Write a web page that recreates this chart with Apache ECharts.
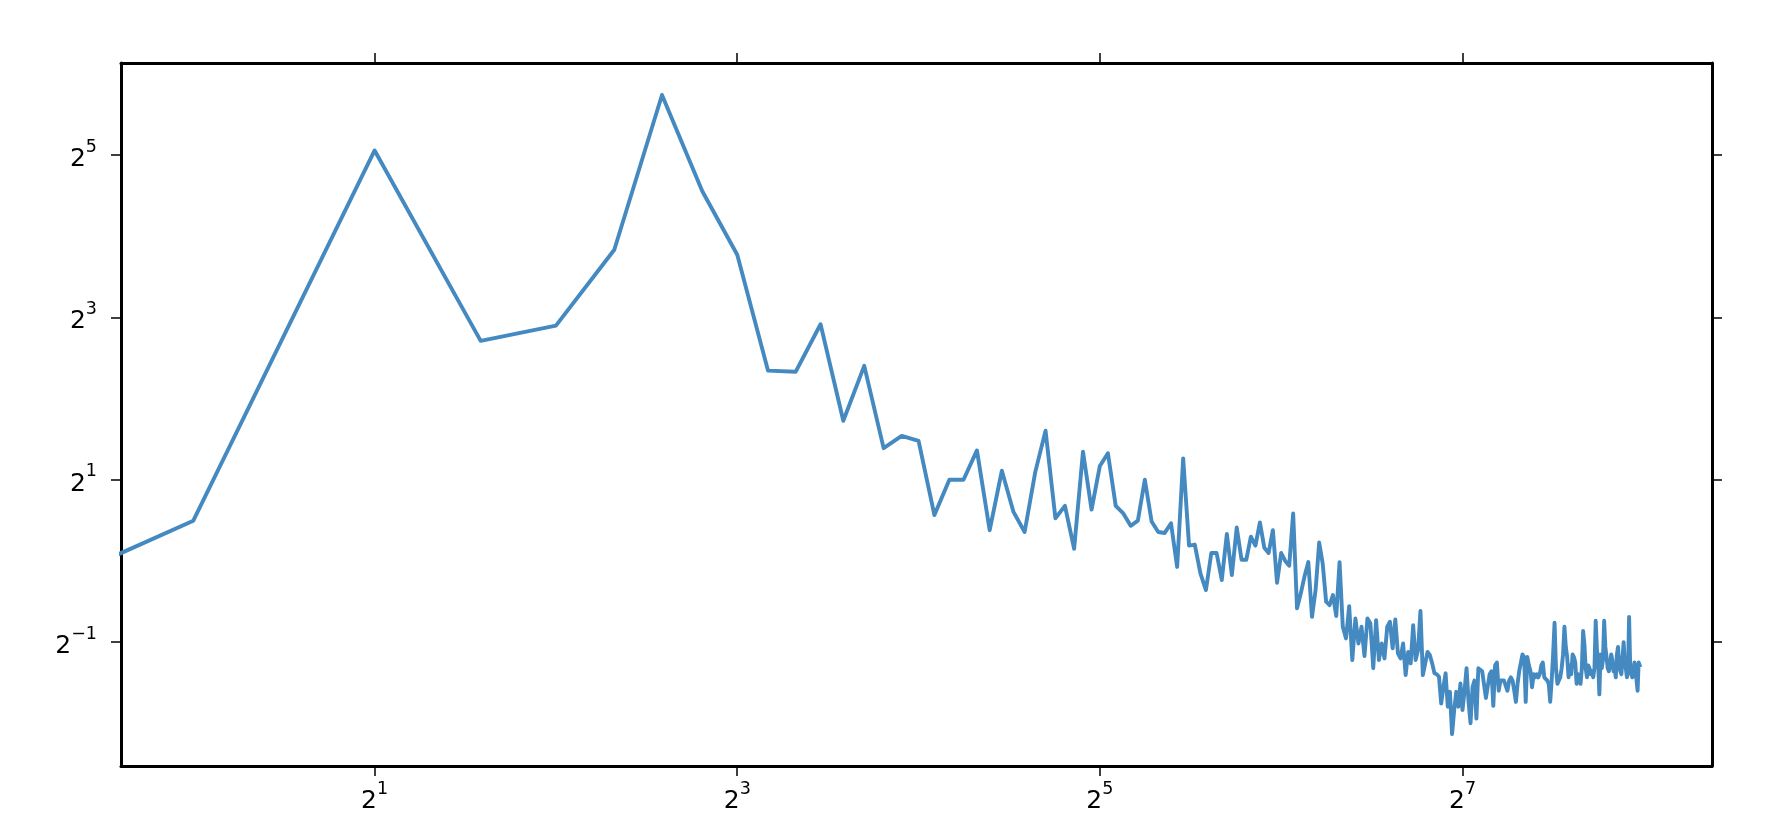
<!DOCTYPE html>
<html>
<head>
<meta charset="utf-8">
<script src="https://cdn.jsdelivr.net/npm/echarts@6/dist/echarts.min.js"></script>
<style>
  html, body { margin: 0; padding: 0; background: #ffffff; }
  #chart { width: 1766px; height: 836px; }
</style>
</head>
<body>
<div id="chart"></div>
<script>
// Spectrum power per frequency bin; bin index k = 0..252 is the x value.
// Bin 0 holds 0 (non-positive: clipped on a log axis, as matplotlib does).
const power = [
  0,
  1.41, 33.3, 6.55, 7.46, 14.26, 53.5, 23.5, 13.66, 5.08, 5.03,
  7.55, 3.31, 5.29, 2.62, 2.91, 2.79, 1.48, 2.0, 2.0, 2.57,
  1.30, 2.16, 1.52, 1.28, 2.14, 3.04, 1.44, 1.60, 1.11, 2.54,
  1.55, 2.25, 2.51, 1.60, 1.50, 1.35, 1.41, 2.0, 1.40, 1.28,
  1.27, 1.38, 0.95, 2.40, 1.14, 1.15, 0.90, 0.78, 1.07, 1.07,
  0.85, 1.26, 0.886, 1.33, 1.01, 1.01, 1.23, 1.14, 1.39, 1.12,
  1.07, 1.30, 0.83, 1.07, 1.0, 0.96, 1.50, 0.667, 0.76, 0.88,
  0.99, 0.62, 0.78, 1.17, 0.98, 0.706, 0.686, 0.747, 0.625, 0.99,
  0.57, 0.516, 0.68, 0.429, 0.612, 0.494, 0.57, 0.444, 0.612, 0.587,
  0.40, 0.603, 0.429, 0.494, 0.435, 0.57, 0.595, 0.474, 0.607, 0.454,
  0.435, 0.494, 0.377, 0.46, 0.417, 0.578, 0.429, 0.467, 0.653, 0.377,
  0.417, 0.46, 0.447, 0.417, 0.383, 0.38, 0.372, 0.296, 0.341, 0.383,
  0.288, 0.327, 0.228, 0.28, 0.327, 0.288, 0.351, 0.28, 0.33, 0.40,
  0.30, 0.25, 0.34, 0.36, 0.26, 0.40, 0.40, 0.39, 0.39, 0.31,
  0.31, 0.38, 0.39, 0.29, 0.41, 0.42, 0.33, 0.36, 0.36, 0.36,
  0.36, 0.33, 0.36, 0.37, 0.36, 0.33, 0.30, 0.35, 0.39, 0.39,
  0.45, 0.44, 0.30, 0.44, 0.41, 0.39, 0.34, 0.38, 0.37, 0.38,
  0.37, 0.38, 0.41, 0.42, 0.37, 0.37, 0.36, 0.35, 0.30, 0.36,
  0.45, 0.59, 0.40, 0.35, 0.36, 0.37, 0.40, 0.45, 0.57, 0.48,
  0.44, 0.37, 0.41, 0.38, 0.45, 0.44, 0.42, 0.35, 0.38, 0.37,
  0.35, 0.40, 0.55, 0.49, 0.40, 0.37, 0.41, 0.40, 0.38, 0.39,
  0.37, 0.40, 0.60, 0.47, 0.42, 0.32, 0.45, 0.40, 0.43, 0.60,
  0.48, 0.44, 0.40, 0.39, 0.41, 0.45, 0.43, 0.39, 0.40, 0.37,
  0.45, 0.48, 0.41, 0.39, 0.38, 0.38, 0.50, 0.42, 0.40, 0.37,
  0.39, 0.62, 0.41, 0.38, 0.37, 0.39, 0.42, 0.40, 0.36, 0.33,
  0.42, 0.41
];

// Tick positions, as powers of two (exponents)
const xTickExponents = [1, 3, 5, 7];
const yTickExponents = [-1, 1, 3, 5];

const TINY = 1e-300; // matplotlib clips non-positive values to this on log axes
const points = power.map((v, k) => [k > 0 ? k : TINY, v > 0 ? v : TINY]);

// Autoscale like matplotlib: 5% margin in log space around the positive data
function logLimits(vals) {
  const pos = vals.filter(v => v > 0);
  const lo = Math.log2(Math.min.apply(null, pos));
  const hi = Math.log2(Math.max.apply(null, pos));
  const m = 0.05 * (hi - lo);
  return [lo - m, hi + m];
}
const xLim = logLimits(power.map((v, k) => k));
const yLim = logLimits(power);

const FONT = 'DejaVu Sans';
function powLabel(e) {
  const s = e < 0 ? '\u2212' + Math.abs(e) : String(e);
  return '{b|2}{s|' + s + '}';
}
const rich = {
  b: { fontFamily: FONT, fontSize: 25, color: '#000', lineHeight: 34, verticalAlign: 'bottom',
       padding: 0, align: 'left' },
  s: { fontFamily: FONT, fontSize: 17.5, color: '#000', lineHeight: 20, verticalAlign: 'top',
       padding: 0, align: 'left' }
};

const SPINE = { show: true, onZero: false, lineStyle: { color: '#000', width: 3 } };
function tick(vals) {
  return { show: true, inside: false, length: 10, customValues: vals,
           lineStyle: { color: '#000', width: 1.5 } };
}

const gridRect = { left: 121, right: 54, top: 63, bottom: 70 };

const option = {
  backgroundColor: '#ffffff',
  animation: false,
  grid: [
    Object.assign({ containLabel: false }, gridRect),
    Object.assign({ containLabel: false }, gridRect)
  ],
  xAxis: [
    { type: 'log', logBase: 2, gridIndex: 0, min: Math.pow(2, xLim[0]), max: Math.pow(2, xLim[1]),
      show: false, splitLine: { show: false } },
    { type: 'value', gridIndex: 1, position: 'bottom', min: xLim[0], max: xLim[1],
      axisLine: SPINE, axisTick: tick(xTickExponents), splitLine: { show: false },
      axisLabel: { show: true, customValues: xTickExponents, margin: 14,
                   formatter: powLabel, rich: rich } },
    { type: 'value', gridIndex: 1, position: 'top', min: xLim[0], max: xLim[1],
      axisLine: SPINE, axisTick: tick(xTickExponents), splitLine: { show: false },
      axisLabel: { show: false } }
  ],
  yAxis: [
    { type: 'log', logBase: 2, gridIndex: 0, min: Math.pow(2, yLim[0]), max: Math.pow(2, yLim[1]),
      show: false, splitLine: { show: false } },
    { type: 'value', gridIndex: 1, position: 'left', min: yLim[0], max: yLim[1],
      axisLine: SPINE, axisTick: tick(yTickExponents), splitLine: { show: false },
      axisLabel: { show: true, customValues: yTickExponents, margin: 24,
                   formatter: powLabel, rich: rich } },
    { type: 'value', gridIndex: 1, position: 'right', min: yLim[0], max: yLim[1],
      axisLine: SPINE, axisTick: tick(yTickExponents), splitLine: { show: false },
      axisLabel: { show: false } }
  ],
  series: [
    {
      type: 'line',
      xAxisIndex: 0,
      yAxisIndex: 0,
      data: points,
      showSymbol: false,
      symbol: 'none',
      clip: true,
      lineStyle: { color: '#4589c1', width: 3.9, join: 'round', cap: 'square' }
    }
  ]
};

const chart = echarts.init(document.getElementById('chart'), null, { renderer: 'canvas' });
chart.setOption(option);
</script>
</body>
</html>
